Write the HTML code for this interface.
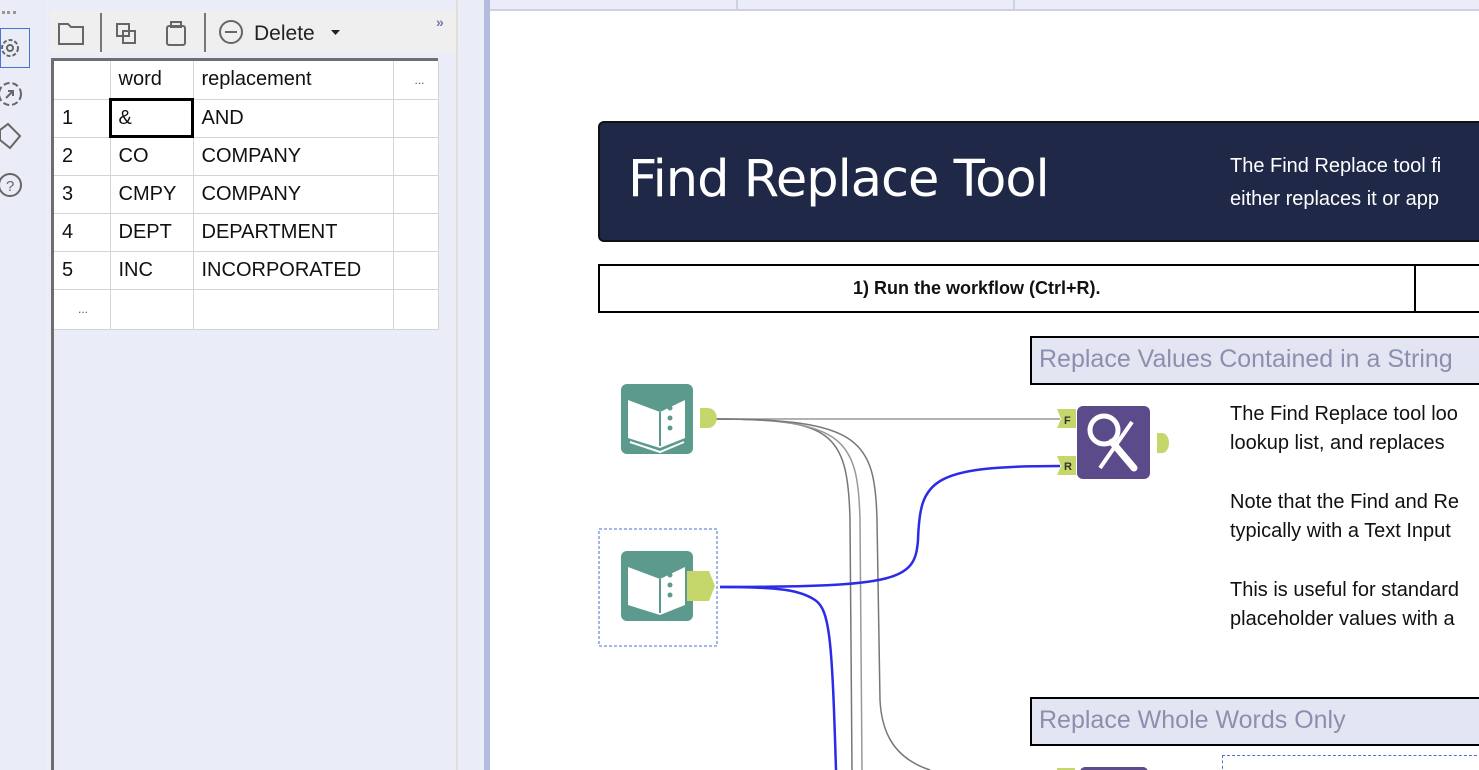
<!DOCTYPE html>
<html style="overflow:hidden;width:1479px;height:770px"><head><meta charset="utf-8"><style>
*{margin:0;padding:0;box-sizing:border-box}
body{width:1479px;height:770px;overflow:hidden;background:#eaecf8;font-family:"Liberation Sans",sans-serif;position:relative}
.abs{position:absolute}
.grid td{border-right:1px solid #d4d4d4;border-bottom:1px solid #d4d4d4;height:38px;font-size:20px;color:#111;padding-left:8px;background:#fff;white-space:nowrap}
.grid{border-collapse:collapse;table-layout:fixed}
</style></head><body>
<div class="abs" style="left:0;top:0;width:48px;height:770px;background:#eaecf8;border-right:1px solid #f0f0f0"></div>
<div class="abs" style="left:2px;top:11px;width:14px;height:4px;border-top:3px dotted #999"></div>
<div class="abs" style="left:0;top:28px;width:30px;height:40px;border:1px solid #4a72d0"></div>
<svg class="abs" style="left:0;top:28px" width="30" height="180" viewBox="0 0 30 180">
<g fill="none" stroke="#666" stroke-width="2">
<circle cx="10" cy="20" r="8" stroke-dasharray="4 2"/><circle cx="10" cy="20" r="3"/>
<circle cx="10" cy="66" r="11" stroke-dasharray="6 3"/><path d="M6 70 L13 63 M8 63 H13 V68"/>
<path d="M0 102 L8 96 L20 108 L10 120 L0 112Z"/>
<circle cx="10" cy="157" r="11"/><text x="6" y="163" font-size="15" fill="#666" stroke="none" font-family="Liberation Sans">?</text>
</g></svg>
<div class="abs" style="left:50px;top:10px;width:410px;height:43px;background:#efefef"></div>
<svg class="abs" style="left:50px;top:10px" width="410" height="43">
<g fill="none" stroke="#666" stroke-width="2">
<path d="M9 14 H18 L21 17 H33 V34 H9Z"/>
<line x1="51" y1="3" x2="51" y2="42" stroke="#777"/>
<rect x="67" y="14" width="12" height="12"/><rect x="73" y="21" width="12" height="12"/>
<rect x="117" y="16" width="18" height="19" rx="2"/><rect x="121" y="12" width="10" height="5"/>
<line x1="155" y1="3" x2="155" y2="42" stroke="#777"/>
<circle cx="181" cy="22" r="11"/><line x1="175" y1="22" x2="187" y2="22"/>
</g>
<text x="204" y="30" font-size="21" fill="#222" font-family="Liberation Sans">Delete</text>
<path d="M281 20 h9 l-4.5 5z" fill="#222"/>
<text x="386" y="17" font-size="14" fill="#7774aa" font-weight="bold">»</text>
</svg>
<div class="abs" style="left:51px;top:58px;width:387px;height:712px;border-left:3px solid #6e6e6e;border-top:3px solid #6e6e6e"></div>
<table class="grid abs" style="left:54px;top:61px;width:384px">
<colgroup><col style="width:56px"><col style="width:83px"><col style="width:200px"><col style="width:45px"></colgroup>
<tr><td style="background:#fff;height:37px"></td><td>word</td><td>replacement</td><td style="text-align:center;font-size:12px;color:#555">...</td></tr>
<tr><td>1</td><td style="outline:3px solid #000;outline-offset:-2px">&amp;</td><td>AND</td><td></td></tr>
<tr><td>2</td><td>CO</td><td>COMPANY</td><td></td></tr>
<tr><td>3</td><td>CMPY</td><td>COMPANY</td><td></td></tr>
<tr><td>4</td><td>DEPT</td><td>DEPARTMENT</td><td></td></tr>
<tr><td>5</td><td>INC</td><td>INCORPORATED</td><td></td></tr>
<tr><td style="padding-left:24px;font-size:12px;color:#555;height:40px">...</td><td></td><td></td><td></td></tr>
</table>
<div class="abs" style="left:456px;top:0;width:2px;height:770px;background:#dedede"></div>
<div class="abs" style="left:484px;top:0;width:6px;height:770px;background:#b3bbdf"></div>
<div class="abs" style="left:490px;top:0;width:989px;height:770px;background:#fff;overflow:hidden">
<div class="abs" style="left:0;top:0;width:989px;height:11px;background:#eaecf8;border-bottom:2px solid #cdd1e6"></div>
<div class="abs" style="left:246px;top:0;width:2px;height:11px;background:#cdd1e6"></div>
<div class="abs" style="left:523px;top:0;width:2px;height:11px;background:#cdd1e6"></div>
<div class="abs" style="left:108px;top:121px;width:900px;height:121px;background:#1f2846;border:2px solid #111;border-radius:6px"></div>
<div class="abs" style="left:138px;top:150px;font-size:51px;color:#fff;font-family:'DejaVu Sans',sans-serif;letter-spacing:-1px">Find Replace Tool</div>
<div class="abs" style="left:740px;top:150px;font-size:20px;line-height:33px;color:#fff;white-space:nowrap">The Find Replace tool fi<br>either replaces it or app</div>
<div class="abs" style="left:108px;top:264px;width:900px;height:49px;border:2px solid #000;background:#fff"></div>
<div class="abs" style="left:924px;top:264px;width:2px;height:49px;background:#000"></div>
<div class="abs" style="left:363px;top:278px;font-size:18px;font-weight:bold;color:#111">1) Run the workflow (Ctrl+R).</div>
<div class="abs" style="left:540px;top:336px;width:460px;height:49px;border:2px solid #000;background:#e3e6f2"></div>
<div class="abs" style="left:549px;top:345px;font-size:25px;color:#8c8fae;white-space:nowrap">Replace Values Contained in a String</div>
<div class="abs" style="left:540px;top:697px;width:460px;height:49px;border:2px solid #000;background:#e3e6f2"></div>
<div class="abs" style="left:549px;top:706px;font-size:25px;color:#8c8fae;white-space:nowrap">Replace Whole Words Only</div>
<div class="abs" style="left:740px;top:400px;font-size:20px;line-height:29px;color:#111;white-space:nowrap">The Find Replace tool loo<br>lookup list, and replaces</div>
<div class="abs" style="left:740px;top:488px;font-size:20px;line-height:29px;color:#111;white-space:nowrap">Note that the Find and Re<br>typically with a Text Input</div>
<div class="abs" style="left:740px;top:576px;font-size:20px;line-height:29px;color:#111;white-space:nowrap">This is useful for standard<br>placeholder values with a</div>
<div class="abs" style="left:732px;top:755px;width:260px;height:30px;border:1px dashed #4a72d0"></div>
<svg class="abs" style="left:0;top:0" width="989" height="770" viewBox="490 0 989 770">
<g fill="none" stroke-width="1.5">
<path d="M716 419 H1060" stroke="#999"/>
<path d="M716 419 C830 419 848 430 850 520 L852 770" stroke="#777"/>
<path d="M716 419 C845 419 858 440 860 520 L862 770" stroke="#999"/>
<path d="M716 419 C860 419 875 440 877 520 L880 700 C882 740 900 760 930 770" stroke="#777"/>
<path d="M720 587 C780 587 800 590 815 600 C830 610 832 640 836 770" stroke="#2b2be8" stroke-width="2.5"/>
<path d="M720 587 C900 587 915 580 918 540 C920 480 930 466 1060 466" stroke="#2b2be8" stroke-width="2.5"/>
</g>
<rect x="599" y="529" width="118" height="117" fill="none" stroke="#4a72d0" stroke-dasharray="3 2"/>
<rect x="621" y="384" width="72" height="70" rx="6" fill="#5b9a8c"/>
<path d="M628 400 L660 412 L685 400 V438 L660 448 L628 438Z" fill="#fff"/>
<line x1="660" y1="412" x2="660" y2="446" stroke="#5b9a8c" stroke-width="2"/>
<path d="M630 442 L660 452 L684 442" fill="none" stroke="#fff" stroke-width="2"/>
<circle cx="670" cy="408" r="2.5" fill="#5b9a8c"/><circle cx="670" cy="418" r="2.5" fill="#5b9a8c"/><circle cx="670" cy="428" r="2.5" fill="#5b9a8c"/>
<path d="M700 408 h8 a7 8 0 0 1 0 20 h-8z" fill="#c5d66a"/>
<rect x="621" y="551" width="72" height="70" rx="6" fill="#5b9a8c"/>
<path d="M628 567 L660 579 L685 567 V605 L660 615 L628 605Z" fill="#fff"/>
<line x1="660" y1="579" x2="660" y2="613" stroke="#5b9a8c" stroke-width="2"/>
<circle cx="670" cy="575" r="2.5" fill="#5b9a8c"/><circle cx="670" cy="585" r="2.5" fill="#5b9a8c"/><circle cx="670" cy="595" r="2.5" fill="#5b9a8c"/>
<path d="M687 571 h22 l6 15 l-6 15 h-22z" fill="#c5d66a"/>
<rect x="1077" y="406" width="73" height="73" rx="6" fill="#5b4b8a"/>
<circle cx="1104" cy="430" r="14" fill="none" stroke="#fff" stroke-width="5"/>
<line x1="1112" y1="442" x2="1134" y2="468" stroke="#fff" stroke-width="7" stroke-linecap="round"/>
<line x1="1100" y1="468" x2="1132" y2="422" stroke="#fff" stroke-width="4"/>
<path d="M1057 409 h19 v19 h-19 l4 -9z" fill="#c5d66a"/><text x="1064" y="424" font-size="11" font-weight="bold" fill="#333">F</text>
<path d="M1057 456 h19 v19 h-19 l4 -9z" fill="#c5d66a"/><text x="1064" y="470" font-size="11" font-weight="bold" fill="#333">R</text>
<path d="M1157 433 h5 a7 10 0 0 1 0 20 h-5z" fill="#c5d66a"/>
<rect x="1080" y="767" width="68" height="10" rx="5" fill="#5b4b8a"/>
<rect x="1057" y="768" width="18" height="5" fill="#c5d66a"/>
</svg>
</div>
</body></html>
